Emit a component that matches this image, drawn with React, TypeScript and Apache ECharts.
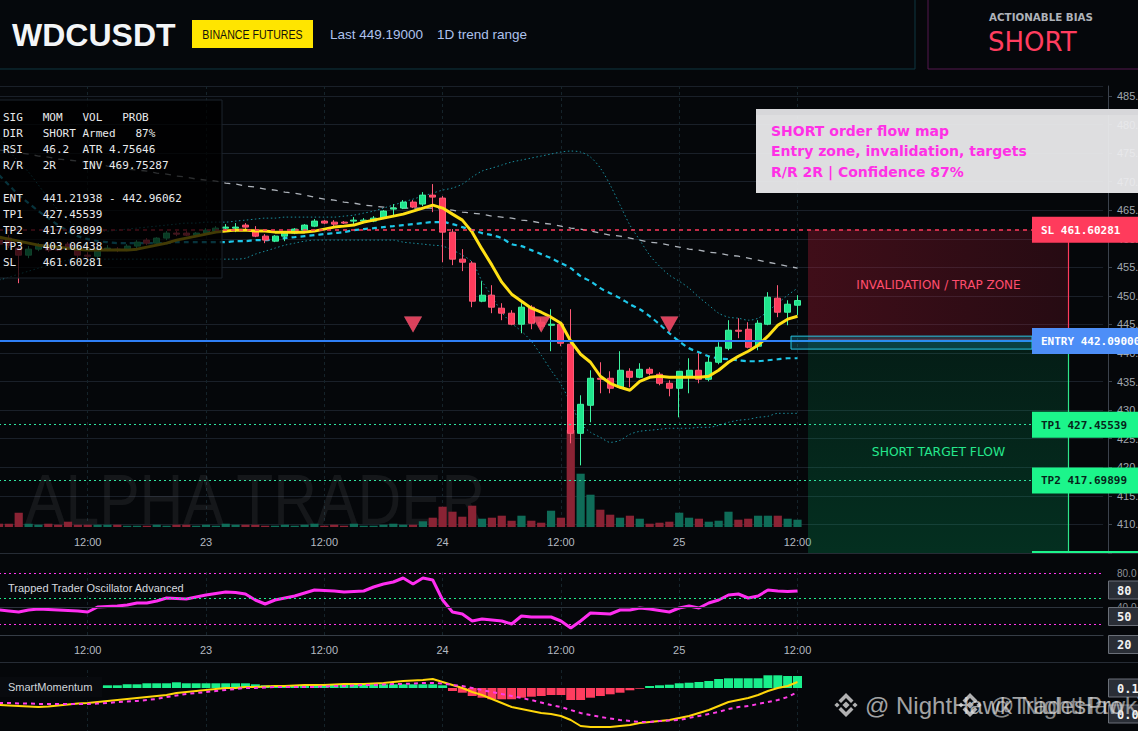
import React, { useEffect, useRef } from 'react';
import * as echarts from 'echarts';

// ---------------- data ----------------
const SYMBOL = 'WDCUSDT';
const EXCHANGE = 'BINANCE FUTURES';
const LAST_TEXT = 'Last 449.19000';
const RANGE_TEXT = '1D trend range';
const BIAS = 'SHORT';

const SL = 461.60281;
const ENTRY = 442.09;
const TP1 = 427.45539;
const TP2 = 417.69899;
const TP3 = 403.06438;
const ENT_LOW = 441.21938;
const ENT_HIGH = 442.96062;

const START_DAY = 22;
const START_HOUR = 3;
const SLOTS = 113;
const LAST_IDX = 81;
const categories: string[] = Array.from({ length: SLOTS }, (_, i) => {
  const t = START_HOUR + i;
  return `${START_DAY + Math.floor(t / 24)} ${String(t % 24).padStart(2, '0')}:00`;
});

const priceTicks = [410, 415, 420, 425, 430, 435, 440, 445, 450, 455, 460, 465, 470, 475, 480, 485];

const open = [459.77,460.12,458.37,457.14,458.19,458.72,458.19,459.07,458.02,457.14,
  456.96,458.19,458.19,458.02,458.72,459.77,459.24,460.12,461.00,461.00,
  460.64,461.00,461.35,461.87,461.87,462.40,461.52,460.47,459.59,460.47,
  461.00,461.52,462.22,463.10,462.92,462.92,463.10,463.10,463.10,463.62,
  465.20,465.38,466.43,466.08,467.65,467.13,461.17,456.44,455.74,449.08,
  450.13,447.85,446.98,445.05,448.03,445.40,444.87,445.05,441.55,425.95,
  430.86,435.59,435.59,434.01,436.81,435.76,437.16,436.29,434.71,433.84,
  435.94,436.99,435.41,438.39,440.84,444.00,444.17,441.20,445.05,449.61,
  447.15,448.38];
const close = [459.07,458.89,457.14,458.19,458.72,458.02,458.02,458.19,457.14,456.96,
  457.84,458.37,458.02,458.72,459.42,459.24,460.12,461.00,460.82,460.64,
  461.00,461.52,461.87,462.05,462.05,462.05,460.47,459.77,460.47,461.00,
  461.70,462.40,463.10,462.75,462.57,462.75,463.27,463.27,463.62,464.85,
  465.38,466.43,465.55,467.65,467.30,461.17,456.44,455.91,449.08,450.13,
  448.03,446.98,445.05,448.03,445.22,444.70,445.05,441.72,425.95,431.03,
  435.59,435.41,433.84,436.99,435.76,437.16,436.46,434.71,433.84,436.81,
  436.99,435.41,438.39,441.02,444.00,443.82,441.02,445.22,449.78,447.15,
  448.55,449.19];
const low = [458.54,458.37,452.23,456.61,457.84,457.67,457.84,458.02,456.61,456.61,
  456.61,457.84,457.67,457.84,458.37,458.89,459.07,459.77,460.47,460.47,
  460.29,460.82,461.00,461.70,461.17,461.70,460.29,459.24,459.42,459.59,
  460.82,461.35,462.05,462.57,462.22,462.57,462.40,462.75,462.92,463.45,
  463.80,465.20,465.38,465.73,464.67,455.91,455.39,454.34,448.03,448.90,
  446.98,445.75,444.87,443.47,444.17,444.00,440.32,441.20,424.20,420.34,
  427.88,432.96,432.96,433.84,434.01,435.59,436.11,434.36,432.43,428.75,
  432.96,434.71,435.06,438.04,440.49,442.60,440.84,440.49,444.87,446.28,
  444.87,446.63];
const high = [460.47,460.64,458.89,458.72,459.24,459.07,458.54,459.42,458.37,457.67,
  458.02,458.89,458.54,459.07,459.77,460.12,460.29,461.35,461.35,461.35,
  461.17,461.87,462.22,462.57,462.75,462.75,462.22,460.82,460.64,461.17,
  461.87,462.57,463.45,463.27,463.27,463.10,463.80,463.62,463.97,465.02,
  466.08,466.78,466.78,468.18,469.58,467.48,461.70,458.19,456.09,452.58,
  451.88,448.73,447.50,448.73,448.38,446.10,447.68,445.40,447.68,432.61,
  436.99,438.39,436.81,440.32,437.34,438.22,437.51,436.64,435.24,436.81,
  439.09,439.97,439.44,441.90,445.75,446.10,445.40,445.75,450.66,451.88,
  449.25,450.13];

const emaFast = [460.29,459.94,459.59,459.24,458.89,458.72,458.54,458.37,458.19,458.02,
  458.02,458.02,458.02,458.02,458.19,458.54,458.89,459.24,459.77,460.12,
  460.47,460.82,461.17,461.35,461.52,461.52,461.35,461.35,461.17,461.17,
  461.17,461.17,461.35,461.70,462.05,462.22,462.40,462.92,463.27,463.62,
  463.97,464.32,464.85,465.38,465.90,465.38,464.32,463.27,461.17,458.19,
  455.39,452.41,450.31,449.08,447.85,447.15,446.28,445.22,442.07,439.79,
  438.39,435.94,434.71,434.01,433.49,435.06,435.76,435.94,435.76,435.76,
  435.76,435.76,435.94,436.99,438.39,439.44,440.32,441.37,442.95,444.87,
  445.93,446.45];
const emaSlow = [471.16,469.41,467.65,466.25,464.85,463.62,462.40,461.35,460.47,459.94,
  459.59,459.42,459.24,459.24,459.24,459.24,459.24,459.24,459.42,459.42,
  459.42,459.42,459.42,459.42,459.59,459.59,459.77,459.77,459.94,460.12,
  460.29,460.47,460.64,460.82,461.00,461.17,461.52,461.70,461.87,462.05,
  462.22,462.40,462.57,462.75,462.92,462.92,462.57,462.05,461.52,461.00,
  460.64,460.12,459.07,458.72,458.02,457.32,456.61,455.74,454.86,453.46,
  452.58,451.36,450.48,449.61,448.55,447.68,446.45,445.05,443.47,442.07,
  440.84,440.14,439.44,439.09,438.92,438.74,438.57,438.57,438.74,438.92,
  439.09,439.09];
const bandUpper = [478.17,475.54,473.44,471.68,469.41,467.13,465.02,463.27,462.05,461.52,
  461.35,461.35,461.52,461.70,461.87,462.05,462.22,462.40,462.57,462.75,
  462.75,462.92,462.92,462.92,463.10,463.27,463.45,463.62,463.62,463.80,
  463.80,463.80,463.80,463.80,463.80,463.97,464.15,464.50,464.85,465.38,
  465.90,466.43,466.95,467.48,468.00,468.53,468.88,469.58,470.81,471.86,
  472.38,472.91,473.44,473.79,474.14,474.49,474.84,475.19,475.36,475.19,
  474.31,472.38,469.41,465.90,462.40,459.77,457.14,455.21,453.64,452.58,
  451.36,449.78,448.38,446.98,446.28,446.10,445.75,446.10,447.33,448.73,
  450.13,451.36];
const bandLower = [452.76,453.29,453.81,454.34,454.86,455.39,455.91,456.26,456.44,456.44,
  456.44,456.44,456.44,456.44,456.44,456.44,456.44,456.44,456.44,456.44,
  456.44,456.44,456.44,456.44,456.44,456.61,457.32,457.84,458.37,458.89,
  459.24,459.59,459.77,459.77,459.77,459.77,459.77,459.77,459.77,459.77,
  459.77,459.42,459.24,459.07,458.89,458.72,458.02,457.14,455.91,452.58,
  449.96,447.15,445.22,443.82,442.07,439.62,436.99,434.54,431.21,427.70,
  426.13,425.25,424.37,424.72,425.78,426.30,426.48,426.65,426.83,426.83,
  426.83,427.00,427.00,427.35,427.88,428.23,428.40,428.75,428.93,429.45,
  429.45,429.45];
const trendLine = [475.54,475.36,475.01,474.84,474.49,474.31,473.96,473.79,473.61,473.26,
  473.09,472.73,472.56,472.21,472.03,471.86,471.51,471.33,470.98,470.81,
  470.46,470.28,470.11,469.76,469.58,469.23,469.06,468.70,468.53,468.18,
  468.00,467.65,467.30,466.95,466.78,466.43,466.25,465.90,465.73,465.55,
  465.38,465.38,465.38,465.38,465.38,465.20,465.02,464.67,464.50,464.32,
  463.97,463.80,463.62,463.27,463.10,462.75,462.57,462.22,461.87,461.70,
  461.35,461.00,460.64,460.47,460.12,459.77,459.42,459.24,458.89,458.54,
  458.19,458.02,457.67,457.49,457.14,456.96,456.61,456.26,455.91,455.56,
  455.21,454.86];
const volume = [3.3,3.3,14.3,3.3,2.3,3.3,2.3,5.3,2.3,2.3,
  2.3,2.3,2.3,1.3,1.3,1.3,2.3,1.3,2.3,2.3,
  1.3,2.3,1.3,3.3,2.3,2.3,2.3,1.3,1.3,2.3,
  1.3,2.3,3.3,1.3,2.3,1.3,3.3,1.3,1.3,2.3,
  3.3,2.3,2.3,5.7,9.3,20.3,15.3,10.3,21.3,8.3,
  9.3,11.3,6.3,11.3,6.3,4.3,16.3,9.3,97,53.3,
  32.3,17.3,12.3,9.3,11.3,8.3,3.3,4.3,5.3,14.3,
  9.3,8.3,5.3,6.3,15.3,7.3,8.3,11.3,11.3,11.3,
  8.3,7.3];
const signalIdx = [42, 55, 68];
const signalPrice = [445.0, 445.0, 445.0];

const osc = [36.47,35.29,34.12,36.47,37.65,37.06,36.47,35.88,35.29,34.12,
  40,40.59,41.18,42.35,44.71,44.71,47.06,50.59,50,49.41,
  51.76,54.12,55.88,57.65,57.06,55.29,48.24,43.53,48.24,50.59,
  52.94,56.47,60,59.41,58.82,57.65,58.24,58.82,63.53,67.06,
  69.41,74.12,67.06,74.12,71.76,48.24,34.12,31.76,23.53,25.88,
  24.71,23.53,20,29.41,28.24,28.24,28.24,23.53,15.29,23.53,
  32.94,32.35,31.76,36.47,36.47,38.82,37.65,35.88,34.12,38.82,
  41.18,38.82,44.71,48.24,54.12,55.29,50.59,52.94,60,58.82,
  58.24,58.82];
const oscLevels = [80, 50, 40, 20];
const oscTags = ['80', '50', '20'];

const momHist = [-0.023,-0.023,-0.02,-0.015,-0.01,-0.005,0.005,0.01,0.015,0.02,
  0.023,0.027,0.027,0.037,0.037,0.047,0.047,0.047,0.057,0.047,
  0.047,0.047,0.047,0.047,0.047,0.047,0.037,0.027,0.027,0.027,
  0.03,0.03,0.033,0.033,0.037,0.037,0.037,0.037,0.037,0.037,
  0.037,0.037,0.037,0.037,0.037,0.027,-0.03,-0.047,-0.08,-0.097,
  -0.113,-0.113,-0.113,-0.097,-0.087,-0.08,-0.07,-0.07,-0.12,-0.12,
  -0.097,-0.08,-0.063,-0.047,-0.023,-0.007,0.02,0.027,0.033,0.047,
  0.053,0.06,0.07,0.09,0.097,0.097,0.097,0.097,0.127,0.127,
  0.12,0.12];
const momFast = [-0.17,-0.175,-0.18,-0.185,-0.19,-0.185,-0.175,-0.165,-0.155,-0.15,
  -0.14,-0.13,-0.12,-0.11,-0.10,-0.09,-0.08,-0.07,-0.05,-0.04,
  -0.03,-0.02,-0.01,0,0,0.01,0.01,0.015,0.02,0.02,
  0.025,0.03,0.03,0.03,0.035,0.04,0.04,0.04,0.045,0.05,
  0.06,0.07,0.075,0.08,0.09,0.06,0.03,0,-0.04,-0.07,
  -0.11,-0.15,-0.19,-0.21,-0.23,-0.25,-0.26,-0.28,-0.32,-0.38,
  -0.39,-0.39,-0.39,-0.38,-0.37,-0.35,-0.34,-0.33,-0.32,-0.30,
  -0.28,-0.25,-0.22,-0.18,-0.14,-0.12,-0.10,-0.07,-0.03,0,
  0.02,0.06];
const momSlow = [-0.15,-0.15,-0.155,-0.155,-0.16,-0.16,-0.16,-0.16,-0.16,-0.16,
  -0.155,-0.15,-0.14,-0.135,-0.13,-0.12,-0.11,-0.09,-0.075,-0.06,
  -0.05,-0.04,-0.03,-0.02,-0.01,0,0,0.005,0.01,0.01,
  0.01,0.01,0.01,0.015,0.02,0.02,0.025,0.03,0.03,0.035,
  0.04,0.04,0.045,0.05,0.05,0.045,0.03,0.02,0,-0.02,
  -0.04,-0.06,-0.08,-0.10,-0.12,-0.145,-0.17,-0.19,-0.22,-0.25,
  -0.27,-0.29,-0.305,-0.32,-0.33,-0.34,-0.34,-0.33,-0.325,-0.32,
  -0.30,-0.28,-0.26,-0.24,-0.21,-0.19,-0.18,-0.16,-0.14,-0.12,
  -0.09,-0.04];
const momTags = ['0.12', '0.06'];

const infoRows = [
  'SIG   MOM   VOL   PROB',
  'DIR   SHORT Armed   87%',
  'RSI   46.2  ATR 4.75646',
  'R/R   2R    INV 469.75287',
  '',
  'ENT   441.21938 - 442.96062',
  'TP1   427.45539',
  'TP2   417.69899',
  'TP3   403.06438',
  'SL    461.60281',
];
const noteLines = ['SHORT order flow map', 'Entry zone, invalidation, targets', 'R/R 2R | Confidence 87%'];
const WATERMARK = 'ALPHA TRADER';
const CREDIT = '@ NightHawkTradesPro';

// ---------------- styling helpers ----------------
const SANS = "'Liberation Sans', Arial, sans-serif";
const DEJAVU = "'DejaVu Sans', sans-serif";
const MONO = "'DejaVu Sans Mono', 'Liberation Mono', monospace";

const GRID_LEFT = -1;
const GRID_RIGHT = 34.9;
const AXIS_OFFSET = 4.9;

const hourOf = (i: number) => (START_HOUR + i) % 24;
const isMajor = (i: number) => i <= LAST_IDX && (hourOf(i) === 0 || hourOf(i) === 12);
const fmtTime = (v: string) => {
  const [d, t] = v.split(' ');
  if (t === '00:00') return d;
  if (t === '12:00') return '12:00';
  return '';
};

const RED = '#ff3b5c';
const GREEN = '#1fe58c';

function txt(x: number, y: number, text: string, o: any = {}) {
  const align = o.align || 'left';
  const va = o.va || 'middle';
  return {
    type: 'text', x, y, z: o.z ?? 100, silent: true, scaleX: o.scaleX ?? 1,
    style: {
      text, fill: o.fill || '#fff', fontSize: o.size || 12, fontFamily: o.family || SANS,
      fontWeight: o.weight || 'normal', align, textAlign: align, verticalAlign: va, textVerticalAlign: va,
      shadowBlur: o.shadowBlur || 0, shadowColor: o.shadowColor || 'transparent',
    },
  };
}
function rect(x: number, y: number, w: number, h: number, style: any, z = 100) {
  return { type: 'rect', z, silent: true, shape: { x, y, width: w, height: h }, style };
}
function hline(x1: number, x2: number, y: number, stroke: string, z = 100, lineWidth = 1) {
  return { type: 'line', z, silent: true, shape: { x1, y1: y, x2, y2: y }, style: { stroke, lineWidth } };
}
function diamond(x: number, y: number, r: number) {
  return { type: 'polygon', shape: { points: [[x, y - r], [x + r, y], [x, y + r], [x - r, y]] } };
}
function logo(cx: number, cy: number) {
  const fill = 'rgba(225,225,225,0.78)';
  const kids = [
    diamond(0, 0, 3.6), diamond(-9, 0, 2.6), diamond(9, 0, 2.6),
    { type: 'polygon', shape: { points: [[-7.5, -4.5], [0, -12], [7.5, -4.5], [5, -2], [0, -7], [-5, -2]] } },
    { type: 'polygon', shape: { points: [[-7.5, 4.5], [0, 12], [7.5, 4.5], [5, 2], [0, 7], [-5, 2]] } },
  ].map((k: any) => ({ ...k, style: { fill } }));
  return { type: 'group', x: cx, y: cy, z: 100, silent: true, children: kids };
}
function tokens(row: string) {
  const out: { col: number; s: string }[] = [];
  const re = /\S+(?: \S+)*/g;
  let m: RegExpExecArray | null;
  while ((m = re.exec(row))) out.push({ col: m.index, s: m[0] });
  return out;
}

function buildOption(): any {
  const xBase = { type: 'category', data: categories, boundaryGap: false };
  const vSplit = { show: true, interval: (i: number) => isMajor(i), lineStyle: { color: '#15232a', width: 1, type: [3, 3] } };
  const gridBase = { left: GRID_LEFT, right: GRID_RIGHT, containLabel: false, outerBoundsMode: 'none' };
  return {
    animation: false,
    backgroundColor: '#05070a',
    textStyle: { fontFamily: SANS },
    grid: [
      { ...gridBase, top: 86, height: 467 },
      { ...gridBase, top: 86, height: 441 },
      { ...gridBase, top: 572, height: 63 },
      { ...gridBase, top: 670, height: 61 },
    ],
    xAxis: [
      { ...xBase, gridIndex: 0, show: false },
      {
        ...xBase, gridIndex: 1, axisLine: { show: false }, axisTick: { show: false },
        axisLabel: { interval: (i: number) => isMajor(i), formatter: fmtTime, color: '#b4b9c0', fontSize: 11, margin: 9, fontFamily: SANS },
        splitLine: vSplit,
      },
      {
        ...xBase, gridIndex: 2, axisLine: { show: true, lineStyle: { color: '#363d46' } }, axisTick: { show: false },
        axisLabel: { interval: (i: number) => isMajor(i), formatter: fmtTime, color: '#b4b9c0', fontSize: 11, margin: 9, fontFamily: SANS },
        splitLine: vSplit,
      },
      {
        ...xBase, gridIndex: 3, axisLine: { show: false }, axisTick: { show: false }, axisLabel: { show: false },
        splitLine: vSplit,
      },
    ],
    yAxis: [
      {
        type: 'value', gridIndex: 0, position: 'right', offset: AXIS_OFFSET, min: 405, max: 486.75, interval: 5,
        axisLine: { show: true, lineStyle: { color: '#3b424c' } },
        axisTick: { show: true, length: 4, lineStyle: { color: '#3b424c' } },
        axisLabel: {
          color: '#a0a6ae', fontSize: 11, margin: 9, fontFamily: SANS, showMaxLabel: false,
          formatter: (v: number) => (priceTicks.includes(Math.round(v * 100) / 100) ? v.toFixed(2) : ''),
        },
        splitLine: { show: true, lineStyle: { color: '#1a2029', width: 1 } },
      },
      { type: 'value', gridIndex: 1, show: false, min: 0, max: 441 },
      {
        type: 'value', gridIndex: 2, position: 'right', offset: AXIS_OFFSET, min: 7.06, max: 81.18,
        axisLine: { show: false }, axisTick: { show: false }, splitLine: { show: false },
        axisLabel: { customValues: [40, 80], formatter: (v: number) => v.toFixed(1), color: '#8c9199', fontSize: 10, margin: 9 },
      },
      { type: 'value', gridIndex: 3, show: false, min: -0.43, max: 0.18 },
    ],
    series: [
      {
        type: 'bar', name: 'Volume', xAxisIndex: 1, yAxisIndex: 1, z: 1, barWidth: 8.2,
        data: volume.map((v, i) => ({ value: v, itemStyle: { color: close[i] >= open[i] ? '#0f6c58' : '#8a2334' } })),
      },
      {
        type: 'line', name: 'Trend', xAxisIndex: 0, yAxisIndex: 0, z: 2, symbol: 'none', data: trendLine,
        lineStyle: { color: 'rgba(205,210,218,0.85)', width: 1.3, type: [6, 6] },
      },
      {
        type: 'line', name: 'Upper', xAxisIndex: 0, yAxisIndex: 0, z: 2, symbol: 'none', smooth: 0.3, data: bandUpper,
        lineStyle: { color: '#1a8e9e', width: 1, type: [1.5, 2.5] },
      },
      {
        type: 'line', name: 'Lower', xAxisIndex: 0, yAxisIndex: 0, z: 2, symbol: 'none', smooth: 0.3, data: bandLower,
        lineStyle: { color: '#1a8e9e', width: 1, type: [1.5, 2.5] },
      },
      {
        type: 'line', name: 'Slow', xAxisIndex: 0, yAxisIndex: 0, z: 2, symbol: 'none', smooth: 0.3, data: emaSlow,
        lineStyle: { color: '#1ec6e8', width: 2.2, type: [5, 4] },
      },
      {
        type: 'candlestick', name: SYMBOL, xAxisIndex: 0, yAxisIndex: 0, z: 3, barWidth: 6.5,
        data: open.map((o, i) => [o, close[i], low[i], high[i]]),
        itemStyle: { color: GREEN, color0: RED, borderColor: '#3ff5a2', borderColor0: '#ff5a76', borderWidth: 1 },
        markLine: {
          symbol: 'none', silent: true, animation: false, label: { show: false },
          data: [
            { yAxis: SL, lineStyle: { color: RED, type: [4, 4], width: 1.5 } },
            { yAxis: ENTRY, lineStyle: { color: '#2f7ff5', type: 'solid', width: 2 } },
            { yAxis: TP1, lineStyle: { color: '#2ee6a0', type: [2, 3], width: 1 } },
            { yAxis: TP2, lineStyle: { color: '#2ee6a0', type: [2, 3], width: 1 } },
          ],
        },
      },
      {
        type: 'line', name: 'Fast', xAxisIndex: 0, yAxisIndex: 0, z: 4, symbol: 'none', data: emaFast,
        lineStyle: { color: '#ffe015', width: 3 },
      },
      {
        type: 'scatter', name: 'Signals', xAxisIndex: 0, yAxisIndex: 0, z: 5, symbol: 'triangle', symbolRotate: 180,
        symbolSize: [18, 16], data: signalIdx.map((ix, k) => [ix, signalPrice[k]]),
        itemStyle: { color: RED, shadowBlur: 16, shadowColor: 'rgba(150,150,170,0.5)' },
      },
      {
        type: 'line', name: 'Trapped Trader', xAxisIndex: 2, yAxisIndex: 2, z: 3, symbol: 'none', data: osc,
        lineStyle: { color: '#ff2ef0', width: 3 },
        markLine: {
          symbol: 'none', silent: true, animation: false, label: { show: false },
          data: oscLevels.map((lv) => ({
            yAxis: lv,
            lineStyle: lv === 40 ? { color: '#2c333c', type: 'solid', width: 1 }
              : lv === 50 ? { color: '#1cf08c', type: [2, 3], width: 1.2 }
              : { color: '#ff33ee', type: [2, 3], width: 1.2 },
          })),
        },
      },
      {
        type: 'bar', name: 'Momentum', xAxisIndex: 3, yAxisIndex: 3, z: 2, barWidth: 9,
        data: momHist.map((v) => ({ value: v, itemStyle: { color: v >= 0 ? '#19ef8b' : '#ff3d5f' } })),
      },
      {
        type: 'line', name: 'MomFast', xAxisIndex: 3, yAxisIndex: 3, z: 3, symbol: 'none', data: momFast,
        lineStyle: { color: '#ffd60a', width: 2 },
      },
      {
        type: 'line', name: 'MomSlow', xAxisIndex: 3, yAxisIndex: 3, z: 3, symbol: 'none', data: momSlow,
        lineStyle: { color: '#ff3ce6', width: 2, type: [4, 4] },
      },
    ],
  };
}

function buildGraphics(py: (v: number) => number): any[] {
  const g: any[] = [];
  const zoneL = 808, zoneR = 1068, tagL = 1032, W = 1138, paneBottom = 553;
  const ySL = py(SL), yEn = py(ENTRY), yT1 = py(TP1), yT2 = py(TP2), yT3 = py(TP3);
  const yEH = py(ENT_HIGH), yEL = py(ENT_LOW);

  // header
  g.push(rect(-1, -1, 916, 70, { fill: '#05080c', stroke: '#0f3640', lineWidth: 1 }, 0));
  g.push(rect(928, -1, 212, 70, { fill: '#05070b', stroke: '#55194e', lineWidth: 1 }, 0));
  g.push(txt(12, 35, SYMBOL, { size: 32, weight: 'bold', fill: '#f3f5f7', shadowBlur: 14, shadowColor: 'rgba(110,190,230,0.35)' }));
  g.push(rect(192, 20, 121, 28, { fill: '#ffe500' }));
  g.push(txt(252.5, 34.5, EXCHANGE, { size: 12.5, fill: '#15130a', align: 'center', scaleX: 0.85 }));
  g.push(txt(330, 34.5, LAST_TEXT, { size: 13.5, fill: '#adc2ee' }));
  g.push(txt(437, 34.5, RANGE_TEXT, { size: 13.5, fill: '#adc2ee' }));
  g.push(txt(1041, 17, 'ACTIONABLE BIAS', { size: 10.3, family: DEJAVU, weight: 'bold', fill: '#aeb2b9', align: 'center' }));
  g.push(txt(988, 42, BIAS, { size: 26, family: DEJAVU, fill: '#ff3d5f', shadowBlur: 12, shadowColor: 'rgba(255,60,95,0.45)' }));

  // separators
  g.push(hline(0, W, 553.5, '#262c35', 0));
  g.push(hline(0, W, 662.5, '#262c35', 0));

  // watermark
  g.push(txt(25, 500, WATERMARK, { size: 70, fill: 'rgba(255,255,255,0.065)', z: 0, scaleX: 0.866 }));

  // zones
  g.push(rect(zoneL, ySL, zoneR - zoneL, yEn - ySL, {
    fill: { type: 'linear', x: 0, y: 0, x2: 1, y2: 0, colorStops: [
      { offset: 0, color: 'rgba(200,30,60,0.30)' }, { offset: 1, color: 'rgba(200,30,60,0.17)' }] },
  }, 1));
  g.push(rect(zoneL, yEn, zoneR - zoneL, paneBottom - yEn, {
    fill: { type: 'linear', x: 0, y: 0, x2: 0, y2: 1, colorStops: [
      { offset: 0, color: 'rgba(0,190,110,0.12)' }, { offset: 1, color: 'rgba(0,190,110,0.22)' }] },
  }, 1));
  g.push(hline(zoneL, tagL, yEn - 1, 'rgba(255,59,92,0.8)', 2));
  g.push(txt((zoneL + zoneR) / 2 + 0.5, (ySL + yEn) / 2, 'INVALIDATION / TRAP ZONE', { size: 12, family: DEJAVU, fill: '#ff4d6d', align: 'center', z: 2 }));
  g.push(txt((zoneL + zoneR) / 2 + 0.5, (yEn + 563) / 2, 'SHORT TARGET FLOW', { size: 12.3, family: DEJAVU, fill: '#25e88d', align: 'center', z: 2 }));
  g.push(rect(791, yEH, tagL - 791, yEL - yEH + 3, { fill: 'rgba(30,190,220,0.22)', stroke: '#27c7e3', lineWidth: 1 }, 6));
  g.push({ type: 'line', z: 6, silent: true, shape: { x1: zoneR + 0.5, y1: ySL, x2: zoneR + 0.5, y2: yEn }, style: { stroke: RED, lineWidth: 1.2 } });
  g.push({ type: 'line', z: 6, silent: true, shape: { x1: zoneR + 0.5, y1: yEn, x2: zoneR + 0.5, y2: paneBottom }, style: { stroke: '#2ee68a', lineWidth: 1.2 } });

  // price tags
  const tag = (label: string, yc: number, fill: string, color: string) => {
    g.push(rect(tagL, yc - 13, W - tagL, 26, { fill }));
    g.push(txt(tagL + 9, yc + 0.5, label, { size: 11, family: MONO, weight: 'bold', fill: color }));
  };
  tag(`SL ${SL.toFixed(5)}`, ySL, RED, '#ffffff');
  tag(`ENTRY ${ENTRY.toFixed(5)}`, yEn, '#4d8ef7', '#ffffff');
  tag(`TP1 ${TP1.toFixed(5)}`, yT1, '#1cf58b', '#06251a');
  tag(`TP2 ${TP2.toFixed(5)}`, yT2, '#1cf58b', '#06251a');
  const t3top = yT3 - 13;
  if (t3top < paneBottom) g.push(rect(tagL, t3top, W - tagL, paneBottom - t3top, { fill: '#1cf58b' }));

  // info panel
  g.push(rect(-1, 100, 223, 178, { fill: 'rgba(0,0,0,0.74)', stroke: '#1d242c', lineWidth: 1 }));
  infoRows.forEach((row, r) => {
    tokens(row).forEach((tk) => {
      g.push(txt(3 + tk.col * 6.62, 117.5 + r * 16.1, tk.s, { size: 11, family: MONO, fill: '#e8eaec' }));
    });
  });

  // annotation box
  g.push(rect(756, 109, 382, 84, { fill: 'rgba(236,236,238,0.94)' }));
  g.push(rect(756, 109, 382, 6, { fill: 'rgba(214,214,218,0.96)' }));
  noteLines.forEach((s, k) => g.push(txt(771, 130.5 + k * 20.5, s, { size: 14, family: DEJAVU, weight: 'bold', fill: '#ff30e6' })));

  // oscillator panel texts/tags
  g.push(txt(8, 588, 'Trapped Trader Oscillator Advanced', { size: 11, fill: '#d5d9df' }));
  const sideTag = (label: string, top: number) => {
    g.push(rect(1108.5, top, 32, 18, { fill: '#2a2e36', stroke: '#6a6f78', lineWidth: 1 }));
    g.push(txt(1117, top + 9.5, label, { size: 12, family: MONO, weight: 'bold', fill: '#f2f2f2' }));
  };
  oscTags.forEach((s, k) => sideTag(s, [581, 607.5, 635.5][k]));

  // momentum panel
  g.push(rect(0, 677, 102, 20, { fill: '#080a0e' }));
  g.push(txt(8, 686.5, 'SmartMomentum', { size: 11, fill: '#d2d6dc' }));
  momTags.forEach((s, k) => sideTag(s, [679, 705][k]));

  // credits watermark
  g.push(logo(846, 705));
  g.push(txt(865, 705, CREDIT, { size: 24, fill: 'rgba(225,225,225,0.72)' }));
  g.push(logo(970, 705));
  g.push(txt(990, 705, CREDIT, { size: 24, fill: 'rgba(225,225,225,0.6)' }));

  return g;
}

export default function App() {
  const ref = useRef<HTMLDivElement>(null);
  useEffect(() => {
    document.body.style.margin = '0';
    document.body.style.background = '#05070a';
    const chart = echarts.init(ref.current as HTMLDivElement, undefined, { renderer: 'svg' });
    chart.setOption(buildOption());
    const py = (v: number) => chart.convertToPixel({ yAxisIndex: 0 }, v) as number;
    chart.setOption({ graphic: buildGraphics(py) });
    return () => chart.dispose();
  }, []);
  return <div ref={ref} style={{ width: 1138, height: 731, overflow: 'hidden' }} />;
}
